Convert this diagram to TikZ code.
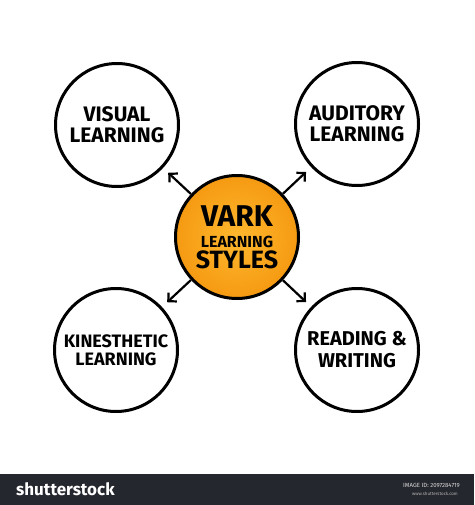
\documentclass[tikz,border=0pt]{standalone}
\usepackage{fontspec}
\setmainfont{Fira Sans}
\usetikzlibrary{shapes,arrows.meta,positioning}
\definecolor{varkinner}{HTML}{FFB82E}
\definecolor{varkouter}{HTML}{F59A12}
\definecolor{stockbar}{HTML}{25272E}

\begin{document}
\begin{tikzpicture}[x=1pt,y=-1pt]
% Define node styles
\tikzstyle{style} = [circle, draw, line width=3pt, minimum size=123pt, inner sep=0pt, fill=white, align=center, font=\bfseries\fontsize{21}{21}\selectfont]
\tikzstyle{hub} = [style, inner color=varkinner, outer color=varkouter]
\tikzstyle{edge} = [line width=2.2pt, -{Straight Barb[length=6pt,width=12pt]}, shorten >=7pt]

% Page and stock bar
\fill[white] (0,0) rectangle (474,505);
\useasboundingbox (0,0) rectangle (474,505);
\fill[stockbar] (0,474) rectangle (474,505);

% Draw nodes
\node[hub] (vark) at (237,237) {\fontsize{30}{30}\selectfont VARK\\
  \fontsize{16}{22}\selectfont LEARNING\\
  \fontsize{25}{29}\selectfont STYLES};
\node[style] (visual) at (117,125) {VISUAL\\LEARNING};
\node[style] (auditory) at (357,124) {AUDITORY\\LEARNING};
\node[style, font=\bfseries\fontsize{18}{18}\selectfont] (kinesthetic) at (116,350) {KINESTHETIC\\LEARNING};
\node[style, font=\bfseries\fontsize{20}{22}\selectfont] (reading) at (357,350) {READING \&\\WRITING};

% Draw edges
\draw[edge] (vark) -- (visual);
\draw[edge] (vark) -- (auditory);
\draw[edge] (vark) -- (kinesthetic);
\draw[edge] (vark) -- (reading);

% Stock bar texts
\node[text=white, anchor=west, font=\bfseries\fontsize{17}{17}\selectfont, inner sep=0pt] (stock) at (16,489) {shutterstock};
\node[text=white!85!black, anchor=east, font=\fontsize{6}{6}\selectfont, inner sep=0pt] (imageid) at (460,485) {IMAGE ID: 2097284719};
\node[text=white!70!black, anchor=east, font=\fontsize{4.5}{4.5}\selectfont, inner sep=0pt] (site) at (458,494) {www.shutterstock.com};
\end{tikzpicture}
\end{document}
